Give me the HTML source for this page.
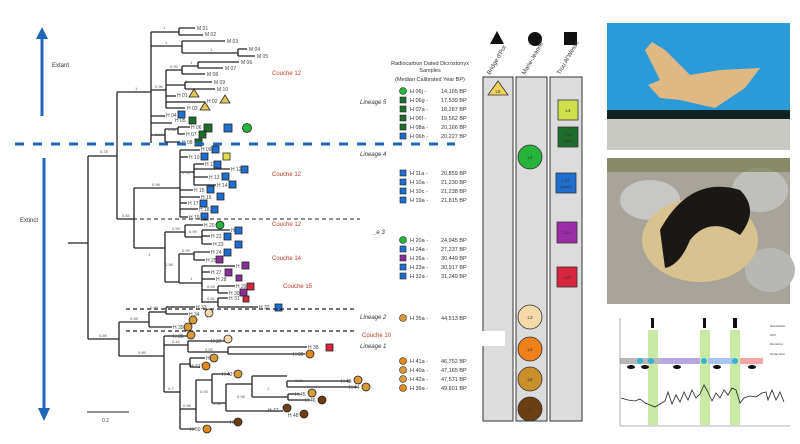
<!DOCTYPE html>
<html><head><meta charset="utf-8"><style>
html,body{margin:0;padding:0;background:#fff;}
svg{display:block;font-family:"Liberation Sans",sans-serif;}
</style></head><body>
<svg width="800" height="444" viewBox="0 0 800 444" xmlns="http://www.w3.org/2000/svg">
<rect width="800" height="444" fill="#fff"/>
<!-- arrows -->
<line x1="42" y1="116" x2="42" y2="38" stroke="#1f66b8" stroke-width="3"/>
<polygon points="42,27 36,39 48,39" fill="#1f66b8"/>
<line x1="44" y1="158" x2="44" y2="408" stroke="#1f66b8" stroke-width="3"/>
<polygon points="44,421 38,408 50,408" fill="#1f66b8"/>
<text x="52" y="67" font-size="6" fill="#333">Extant</text>
<text x="20" y="222" font-size="6" fill="#333">Extinct</text>
<!-- tree -->
<g fill="none" stroke="#222" stroke-width="1.3">
<path d="M68 243H88M88 156V339M88 156H117M117 92V219M117 92H151M151 32V143
M151 32H179M179 28V35M179 28H195M179 35H203
M151 46H182M182 41V53M182 41H225M182 53H238M238 49V56M238 49H247M238 56H255
M151 90H166M166 70V108M166 70H182M182 66V74M182 66H198M198 62V68M198 62H239M198 68H223M182 74H205
M166 85H185M185 82V89M185 82H212M185 89H215M166 96H176M166 102H205M166 108H185
M151 116H165M151 123H172M151 135H165M165 129V142M165 129H178M178 127V134M178 127H190M178 134H185M165 142H180
M117 219H134M134 188V248M134 188H180M180 150V217
M180 150H200M180 157H188M180 172H194M194 164V185M194 164H204M194 169H230M194 177H208M194 185H216M180 190H193M180 197H200M180 203H187M180 209H198M180 217H188
M134 248H165M165 232V282M165 232H185M185 225V237M185 225H203M185 237H202M202 230V244M202 230H230M202 236H210M202 244H212
M165 282H179M179 254V283M179 254H194M194 252V260M194 252H210M194 260H205
M179 283H202M202 266V303M202 266H235M202 272H210M202 279H215M202 290H218M218 286V293M218 286H235M218 293H228M202 302H218M218 298V307M218 298H228M218 307H258
M88 339H119M119 322V356M119 322H149M149 312V327M149 312H166M166 307V314M166 307H195M166 314H188M149 327H172
M119 356H164M164 336V392M164 336H190M164 345H188M188 341V352M188 341H225M188 352H228M228 347V354M228 347H307M228 354H305
M164 392H180M180 364V429M180 364H190M190 358V367M190 358H205M190 367H200
M180 409H196M196 380V422M196 380H212M212 374V403M212 374H230M212 403H226M226 384V411M226 384H252M252 376V397M252 376H287M287 381V387M287 381H350M287 387H357M252 397H288M288 394V400M288 394H300M288 400H310M226 411H283M196 422H235M180 429H195"/>
</g>
<g font-size="4" fill="#555">
<text x="163" y="29">1</text><text x="165" y="44">1</text><text x="210" y="51">1</text><text x="135" y="90">1</text>
<text x="155" y="88">0.96</text><text x="170" y="68">0.99</text><text x="190" y="64">1</text><text x="185" y="83">1</text>
<text x="155" y="136">0.99</text><text x="168" y="131">0.98</text><text x="100" y="153">0.78</text><text x="122" y="217">0.84</text>
<text x="152" y="186">0.98</text><text x="182" y="174">0.76</text><text x="172" y="230">0.99</text><text x="189" y="233">0.99</text>
<text x="148" y="256">1</text><text x="165" y="266">0.98</text><text x="182" y="252">0.99</text><text x="190" y="280">1</text>
<text x="207" y="288">0.93</text><text x="207" y="300">0.81</text><text x="130" y="320">0.98</text><text x="150" y="309">0.99</text>
<text x="99" y="337">0.89</text><text x="138" y="354">0.89</text><text x="172" y="343">0.44</text><text x="205" y="351">0.93</text>
<text x="168" y="390">0.7</text><text x="183" y="407">0.98</text><text x="200" y="393">0.93</text><text x="237" y="398">0.98</text><text x="267" y="390">1</text><text x="295" y="382">0.99</text><text x="213" y="405">0.96</text>
</g>
<g font-size="5" fill="#444">
<text x="197" y="30">M 01</text><text x="205" y="36">M 02</text><text x="227" y="43">M 03</text><text x="249" y="51">M 04</text><text x="257" y="58">M 05</text>
<text x="241" y="64">M 06</text><text x="225" y="70">M 07</text><text x="207" y="76">M 08</text><text x="214" y="84">M 09</text><text x="217" y="91">M 10</text>
<text x="177" y="97">H 01</text><text x="207" y="103">H 02</text><text x="187" y="110">H 03</text><text x="166" y="117">H 04</text><text x="175" y="122">H 05</text>
<text x="191" y="129">H 06</text><text x="186" y="136">H 07</text><text x="182" y="144">H 08</text>
<text x="201" y="151">H 09</text><text x="189" y="159">H 10</text><text x="205" y="166">H 11</text><text x="231" y="171">H 12</text><text x="209" y="179">H 13</text><text x="217" y="187">H 14</text>
<text x="194" y="192">H 15</text><text x="201" y="199">H 16</text><text x="188" y="205">H 17</text><text x="199" y="211">H 18</text><text x="189" y="219">H 19</text>
<text x="204" y="227">H 20</text><text x="231" y="232">H 21</text><text x="211" y="238">H 22</text><text x="213" y="246">H 23</text>
<text x="211" y="254">H 24</text><text x="206" y="262">H 25</text><text x="236" y="268">H 26</text><text x="211" y="274">H 27</text><text x="216" y="281">H 28</text>
<text x="236" y="288">H 29</text><text x="229" y="295">H 30</text><text x="229" y="300">H 31</text><text x="259" y="309">H 32</text>
<text x="196" y="309">H 33</text><text x="189" y="316">H 34</text><text x="173" y="329">H 35</text><text x="173" y="338">H 36</text><text x="211" y="343">H 37</text>
<text x="308" y="349">H 38</text><text x="293" y="356">H 39</text><text x="206" y="360">H 40</text><text x="190" y="368">H 41</text><text x="222" y="376">H 42</text>
<text x="341" y="383">H 43</text><text x="349" y="389">H 44</text><text x="295" y="396">H 45</text><text x="305" y="402">H 46</text><text x="268" y="412">H 47</text><text x="288" y="417">H 48</text><text x="230" y="424">H 49</text><text x="190" y="431">H 50</text>
</g>
<!-- markers -->
<g stroke="#222" stroke-width="0.8">
<polygon points="194,89 189,97 199,97" fill="#e8c75a"/><polygon points="225,95 220,103 230,103" fill="#e8c75a"/><polygon points="205,102 200,110 210,110" fill="#e8c75a"/>
<rect x="178" y="111" width="7" height="7" fill="#1f6fd0"/><rect x="189" y="117" width="7" height="7" fill="#1d6e2b"/>
<rect x="204" y="124" width="8" height="8" fill="#1d6e2b"/><rect x="224" y="124" width="8" height="8" fill="#1f6fd0"/><circle cx="247" cy="128" r="4.5" fill="#27b43a"/>
<rect x="199" y="131" width="7" height="7" fill="#1d6e2b"/><rect x="195" y="139" width="7" height="7" fill="#1d6e2b"/>
<rect x="212" y="146" width="7" height="7" fill="#1f6fd0"/><rect x="201" y="153" width="7" height="7" fill="#1f6fd0"/><rect x="223" y="153" width="7" height="7" fill="#dfe04a"/>
<rect x="214" y="161" width="7" height="7" fill="#1f6fd0"/><rect x="241" y="166" width="7" height="7" fill="#1f6fd0"/><rect x="222" y="173" width="7" height="7" fill="#1f6fd0"/><rect x="229" y="181" width="7" height="7" fill="#1f6fd0"/>
<rect x="207" y="186" width="7" height="7" fill="#1f6fd0"/><rect x="217" y="193" width="7" height="7" fill="#1f6fd0"/><rect x="200" y="200" width="7" height="7" fill="#1f6fd0"/><rect x="211" y="206" width="7" height="7" fill="#1f6fd0"/><rect x="201" y="213" width="7" height="7" fill="#1f6fd0"/>
<circle cx="220" cy="225" r="4" fill="#27b43a"/><rect x="235" y="227" width="7" height="7" fill="#1f6fd0"/><rect x="224" y="233" width="7" height="7" fill="#1f6fd0"/><rect x="235" y="241" width="7" height="7" fill="#1f6fd0"/>
<rect x="224" y="249" width="7" height="7" fill="#1f6fd0"/><rect x="216" y="256" width="7" height="7" fill="#8b2d9b"/><rect x="242" y="262" width="7" height="7" fill="#8b2d9b"/>
<rect x="225" y="269" width="7" height="7" fill="#8b2d9b"/><rect x="236" y="275" width="6" height="6" fill="#8b2d9b"/><rect x="247" y="283" width="7" height="7" fill="#d7263d"/><rect x="240" y="289" width="7" height="7" fill="#8b2d9b"/><rect x="243" y="296" width="6" height="6" fill="#d7263d"/><rect x="275" y="304" width="7" height="7" fill="#1f6fd0"/>
<circle cx="209" cy="313" r="4" fill="#f6d9a8"/><circle cx="193" cy="320" r="4" fill="#d99a3a"/><circle cx="188" cy="327" r="4" fill="#d99a3a"/><circle cx="191" cy="335" r="4" fill="#d99a3a"/>
<circle cx="228" cy="339" r="4" fill="#f6d9a8"/><rect x="326" y="344" width="7" height="7" fill="#d7263d"/><circle cx="310" cy="354" r="4" fill="#e08a1e"/>
<circle cx="214" cy="358" r="4" fill="#d99a3a"/><circle cx="206" cy="366" r="4" fill="#e08a1e"/><circle cx="238" cy="374" r="4" fill="#d99a3a"/>
<circle cx="358" cy="380" r="4" fill="#d99a3a"/><circle cx="366" cy="387" r="4" fill="#d99a3a"/><circle cx="312" cy="393" r="4" fill="#d99a3a"/><circle cx="322" cy="400" r="4" fill="#6b3f12"/>
<circle cx="287" cy="408" r="4" fill="#6b3f12"/><circle cx="304" cy="414" r="4" fill="#6b3f12"/><circle cx="238" cy="422" r="4" fill="#6b3f12"/><circle cx="207" cy="429" r="4" fill="#e08a1e"/>
</g>
<!-- dashed lines -->
<line x1="126" y1="219" x2="360" y2="219" stroke="#222" stroke-width="1" stroke-dasharray="4,3"/>
<line x1="126" y1="309" x2="357" y2="309" stroke="#222" stroke-width="1.2" stroke-dasharray="4,3"/>
<line x1="126" y1="331" x2="357" y2="331" stroke="#222" stroke-width="1.2" stroke-dasharray="4,3"/>
<line x1="15" y1="144" x2="455" y2="144" stroke="#1f66b8" stroke-width="3" stroke-dasharray="9,9"/>
<!-- scale -->
<line x1="87" y1="412" x2="129" y2="412" stroke="#222" stroke-width="1"/>
<text x="102" y="422" font-size="5" fill="#444">0.2</text>
<!-- couche labels -->
<g font-size="6" fill="#c0392b">
<text x="272" y="75">Couche 12</text><text x="272" y="176">Couche 12</text><text x="272" y="226">Couche 12</text><text x="272" y="260">Couche 14</text><text x="283" y="288">Couche 15</text><text x="362" y="337">Couche 10</text>
</g>
<g font-size="6" fill="#333" font-style="italic">
<text x="360" y="104">Lineage 5</text><text x="360" y="156">Lineage 4</text><text x="373" y="234">_e 3</text><text x="360" y="319">Lineage 2</text><text x="360" y="348">Lineage 1</text>
</g>
<!-- legend -->
<g font-size="5.5" fill="#333" text-anchor="middle">
<text x="430" y="65">Radiocarbon Dated Dicrostonyx</text><text x="430" y="72">Samples</text><text x="430" y="81">(Median Calibrated Year BP)</text>
</g>
<g stroke="#222" stroke-width="0.6">
<circle cx="403" cy="91" r="3.5" fill="#27b43a"/><rect x="400" y="97" width="6" height="6" fill="#1d6e2b"/><rect x="400" y="106" width="6" height="6" fill="#1d6e2b"/><rect x="400" y="115" width="6" height="6" fill="#1d6e2b"/><rect x="400" y="124" width="6" height="6" fill="#1d6e2b"/><rect x="400" y="133" width="6" height="6" fill="#1f6fd0"/>
<rect x="400" y="170" width="6" height="6" fill="#1f6fd0"/><rect x="400" y="179" width="6" height="6" fill="#1f6fd0"/><rect x="400" y="188" width="6" height="6" fill="#1f6fd0"/><rect x="400" y="197" width="6" height="6" fill="#1f6fd0"/>
<circle cx="403" cy="240" r="3.5" fill="#27b43a"/><rect x="400" y="246" width="6" height="6" fill="#1f6fd0"/><rect x="400" y="255" width="6" height="6" fill="#8b2d9b"/><rect x="400" y="264" width="6" height="6" fill="#1f6fd0"/><rect x="400" y="273" width="6" height="6" fill="#1f6fd0"/>
<circle cx="403" cy="318" r="3.5" fill="#d99a3a"/>
<circle cx="403" cy="361" r="3.5" fill="#e08a1e"/><circle cx="403" cy="370" r="3.5" fill="#d99a3a"/><circle cx="403" cy="379" r="3.5" fill="#d99a3a"/><circle cx="403" cy="388" r="3.5" fill="#e08a1e"/>
</g>
<g font-size="5.5" fill="#333">
<text x="410" y="93">H 06j    -</text><text x="441" y="93">14,165 BP</text>
<text x="410" y="102">H 06g  -</text><text x="441" y="102">17,539 BP</text>
<text x="410" y="111">H 07a  -</text><text x="441" y="111">18,287 BP</text>
<text x="410" y="120">H 06f   -</text><text x="441" y="120">19,562 BP</text>
<text x="410" y="129">H 08a  -</text><text x="441" y="129">20,166 BP</text>
<text x="410" y="138">H 06h  -</text><text x="441" y="138">20,227 BP</text>
<text x="410" y="175">H 11a  -</text><text x="441" y="175">20,859 BP</text>
<text x="410" y="184">H 10a  -</text><text x="441" y="184">21,230 BP</text>
<text x="410" y="193">H 10c  -</text><text x="441" y="193">21,238 BP</text>
<text x="410" y="202">H 19a  -</text><text x="441" y="202">21,815 BP</text>
<text x="410" y="242">H 20a  -</text><text x="441" y="242">24,945 BP</text>
<text x="410" y="251">H 24a  -</text><text x="441" y="251">27,237 BP</text>
<text x="410" y="260">H 26a  -</text><text x="441" y="260">30,449 BP</text>
<text x="410" y="269">H 23a  -</text><text x="441" y="269">30,917 BP</text>
<text x="410" y="278">H 32a  -</text><text x="441" y="278">31,249 BP</text>
<text x="410" y="320">H 35a  -</text><text x="441" y="320">44,513 BP</text>
<text x="410" y="363">H 41a  -</text><text x="441" y="363">46,752 BP</text>
<text x="410" y="372">H 40a  -</text><text x="441" y="372">47,165 BP</text>
<text x="410" y="381">H 42a  -</text><text x="441" y="381">47,571 BP</text>
<text x="410" y="390">H 39a  -</text><text x="441" y="390">49,601 BP</text>
</g>
<!-- columns -->
<polygon points="497,31 490,44 504,44" fill="#111"/>
<circle cx="535" cy="39" r="7" fill="#111"/>
<rect x="564" y="32" width="13" height="13" fill="#111"/>
<g font-size="6" fill="#333">
<text transform="translate(490,75) rotate(-60)">Bridge d'Pot</text>
<text transform="translate(525,75) rotate(-60)">Marie-Jeanne</text>
<text transform="translate(560,75) rotate(-60)">Trou Al'Wesse</text>
</g>
<g stroke="#333" stroke-width="1" fill="#dcdcdc">
<rect x="483" y="77" width="30" height="344"/><rect x="516" y="77" width="31" height="344"/><rect x="550" y="77" width="32" height="344"/>
</g>
<rect x="482" y="331" width="23" height="15" fill="#fff"/>
<g stroke="#333" stroke-width="0.8">
<polygon points="498,81 488,95 508,95" fill="#f2d25a"/>
<circle cx="530" cy="157" r="12" fill="#27b43a"/>
<circle cx="530" cy="317" r="12" fill="#f6d9a8"/><circle cx="530" cy="349" r="12" fill="#f0801a"/><circle cx="530" cy="379" r="12" fill="#c98f2a"/><circle cx="530" cy="409" r="12" fill="#6b3f12"/>
<rect x="558" y="100" width="20" height="20" fill="#cfe04a"/>
<rect x="558" y="127" width="20" height="20" fill="#1d6e2b"/>
<rect x="556" y="173" width="20" height="20" fill="#1f6fd0"/>
<rect x="557" y="222" width="20" height="21" fill="#9b2ea8"/>
<rect x="557" y="267" width="20" height="20" fill="#d7263d"/>
</g>
<g font-size="4.5" fill="#333" text-anchor="middle">
<text x="498" y="93">L8</text><text x="530" y="159">L2</text><text x="530" y="319">L3</text><text x="530" y="351">L4</text><text x="530" y="381">L5</text><text x="530" y="411">L6</text>
<text x="568" y="112">L4</text><text x="568" y="136">L12</text><text x="568" y="142" font-size="3.5">(upper)</text><text x="566" y="182">L12</text><text x="566" y="188" font-size="3.5">(lower)</text><text x="567" y="234">L14</text><text x="567" y="279">L16</text>
</g>
<!-- photo 1 -->
<rect x="607" y="23" width="183" height="127" fill="#2a9ad8"/>
<rect x="607" y="110" width="183" height="9" fill="#122"/>
<rect x="607" y="119" width="183" height="31" fill="#c9c9c4"/>
<path d="M652 42 L665 50 L690 75 L720 70 L760 68 L745 88 L715 108 L680 100 L660 98 L648 85 L660 80 L645 50 Z" fill="#e0b884"/>
<!-- photo 2 -->
<rect x="607" y="158" width="183" height="146" fill="#a8a49a"/>
<ellipse cx="650" cy="200" rx="30" ry="20" fill="#c7c8c6"/><ellipse cx="760" cy="190" rx="28" ry="22" fill="#bfc0bc"/><ellipse cx="770" cy="270" rx="25" ry="22" fill="#b7b8b4"/>
<rect x="607" y="158" width="183" height="14" fill="#6f7a44" opacity="0.6"/>
<ellipse cx="700" cy="240" rx="58" ry="42" fill="#d8c290"/>
<path d="M660 230 Q690 175 740 190 Q760 210 740 235 Q710 215 690 240 Q680 265 665 268 Z" fill="#1a1714"/>
<!-- chart -->
<rect x="615" y="310" width="175" height="134" fill="#fff"/>
<rect x="648" y="330" width="10" height="95" fill="#c9eaa5"/><rect x="700" y="330" width="10" height="95" fill="#c9eaa5"/><rect x="730" y="330" width="10" height="95" fill="#c9eaa5"/>
<rect x="620" y="358" width="42" height="6" fill="#b7b7b7"/><rect x="660" y="358" width="40" height="6" fill="#b9a6e0"/><rect x="708" y="358" width="25" height="6" fill="#a9c4ee"/><rect x="740" y="358" width="23" height="6" fill="#f3a7a7"/>
<circle cx="640" cy="361" r="3" fill="#36b1d4"/><circle cx="651" cy="361" r="3" fill="#36b1d4"/><circle cx="704" cy="361" r="3" fill="#36b1d4"/><circle cx="735" cy="361" r="3" fill="#36b1d4"/>
<line x1="620" y1="318" x2="620" y2="426" stroke="#666" stroke-width="0.5"/><line x1="620" y1="426" x2="790" y2="426" stroke="#666" stroke-width="0.5"/>
<polyline fill="none" stroke="#222" stroke-width="0.8" points="621,398 628,400 635,401 640,399 645,403 650,405 655,407 660,404 665,401 668,392 672,404 676,395 680,402 684,392 688,400 692,390 696,398 700,394 704,385 708,392 712,401 716,393 720,398 724,390 728,395 732,388 736,390 740,403 744,398 750,396 756,397 762,393 766,392 768,400 772,390 776,400 780,392 784,402"/>
<g fill="#111"><rect x="651" y="318" width="3" height="10"/><rect x="703" y="318" width="3" height="10"/><rect x="733" y="318" width="4" height="10"/></g>
<g fill="#111"><ellipse cx="631" cy="367" rx="4" ry="2"/><ellipse cx="645" cy="367" rx="4" ry="2"/><ellipse cx="677" cy="367" rx="4" ry="2"/><ellipse cx="717" cy="367" rx="4" ry="2"/><ellipse cx="752" cy="367" rx="4" ry="2"/></g>
<g font-size="2.5" fill="#333"><text x="770" y="327">Neanderthals</text><text x="770" y="336">AMH</text><text x="770" y="345">Dicrostonyx</text><text x="770" y="355">Human fossil</text></g>
</svg>
</body></html>
